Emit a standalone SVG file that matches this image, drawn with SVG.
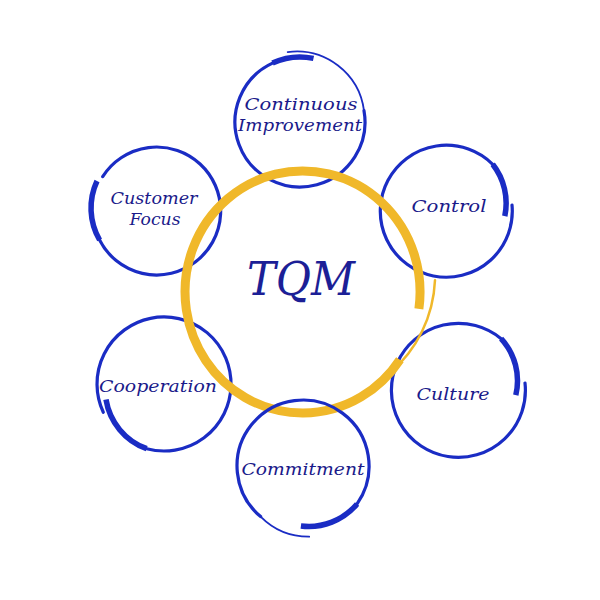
<svg xmlns="http://www.w3.org/2000/svg" width="600" height="600" viewBox="0 0 600 600">
<style>
.ring{fill:none;stroke:#1a2cc4;stroke-width:3.2;stroke-linecap:round}
.thick{fill:none;stroke:#1a2cc4;stroke-width:5.5;stroke-linecap:butt}
.tail{fill:none;stroke:#1a2cc4;stroke-width:1.8;stroke-linecap:round}
.lbl{font-family:"DejaVu Serif","Liberation Serif",serif;font-style:italic;font-size:17px;fill:#1a1a8a;text-anchor:middle}
.tqm{font-family:"DejaVu Serif","Liberation Serif",serif;font-style:italic;font-size:46px;fill:#1c1f96;text-anchor:middle}
.ymain{fill:none;stroke:#f0b82a;stroke-width:9;stroke-linecap:butt}
.ytail{fill:none;stroke:#f0b82a;stroke-width:2.5;stroke-linecap:round}
</style>
<rect width="600" height="600" fill="#ffffff"/>
<g id="node-continuous-improvement">
<path class="ring" d="M364,110.7 A65,65 0 1 1 272.5,63.1"/>
<path class="thick" d="M272.5,63.1 A65,65 0 0 1 313.5,58.4"/>
<path class="tail" d="M287.7,52.1 A68,68 0 0 1 364,110.7"/>
<text class="lbl" x="301" y="110" textLength="113" lengthAdjust="spacingAndGlyphs">Continuous</text>
<text class="lbl" x="300" y="131" textLength="124" lengthAdjust="spacingAndGlyphs">Improvement</text>
</g>
<g id="node-customer-focus">
<path class="thick" d="M97,181 A64,64 0 0 0 99.6,240"/>
<path class="ring" d="M99.6,240 A64,64 0 1 0 102.7,176.6"/>
<text class="lbl" x="154" y="204" textLength="87" lengthAdjust="spacingAndGlyphs">Customer</text>
<text class="lbl" x="155" y="225" textLength="51" lengthAdjust="spacingAndGlyphs">Focus</text>
</g>
<g id="node-control">
<path class="ring" d="M512,205 A66,66 0 1 1 492.7,164.3"/>
<path class="thick" d="M492.7,164.3 A63,63 0 0 1 504.8,216.1"/>
<text class="lbl" x="449" y="212" textLength="75" lengthAdjust="spacingAndGlyphs">Control</text>
</g>
<g id="node-cooperation">
<path class="thick" d="M106,399.5 A63,63 0 0 0 146.7,448.7"/>
<path class="ring" d="M146.7,448.7 A67,67 0 1 0 103.3,412.3"/>
<text class="lbl" x="158" y="392" textLength="118" lengthAdjust="spacingAndGlyphs">Cooperation</text>
</g>
<g id="node-culture">
<path class="ring" d="M525,383 A67,67 0 1 1 501.1,338.7"/>
<path class="thick" d="M501.1,338.7 A62,62 0 0 1 515.8,395.1"/>
<text class="lbl" x="453" y="400" textLength="73" lengthAdjust="spacingAndGlyphs">Culture</text>
</g>
<g id="node-tqm">
<path class="ymain" d="M399.9,359.7 A117.5,121 0 1 1 418.9,308.8"/>
<path class="ytail" d="M389.8,373 A125,128 0 0 0 435,280.2"/>
<text class="tqm" x="301" y="295" textLength="108" lengthAdjust="spacingAndGlyphs">TQM</text>
</g>
<g id="node-commitment">
<path class="thick" d="M300.9,525.9 A63,63 0 0 0 357.1,503.9"/>
<path class="ring" d="M357.1,503.9 A66,66 0 1 0 260.6,516.6"/>
<path class="tail" d="M260.6,516.6 A68,68 0 0 0 309.2,536.7"/>
<text class="lbl" x="303" y="475" textLength="123" lengthAdjust="spacingAndGlyphs">Commitment</text>
</g>
<g id="connectors"></g>
</svg>
